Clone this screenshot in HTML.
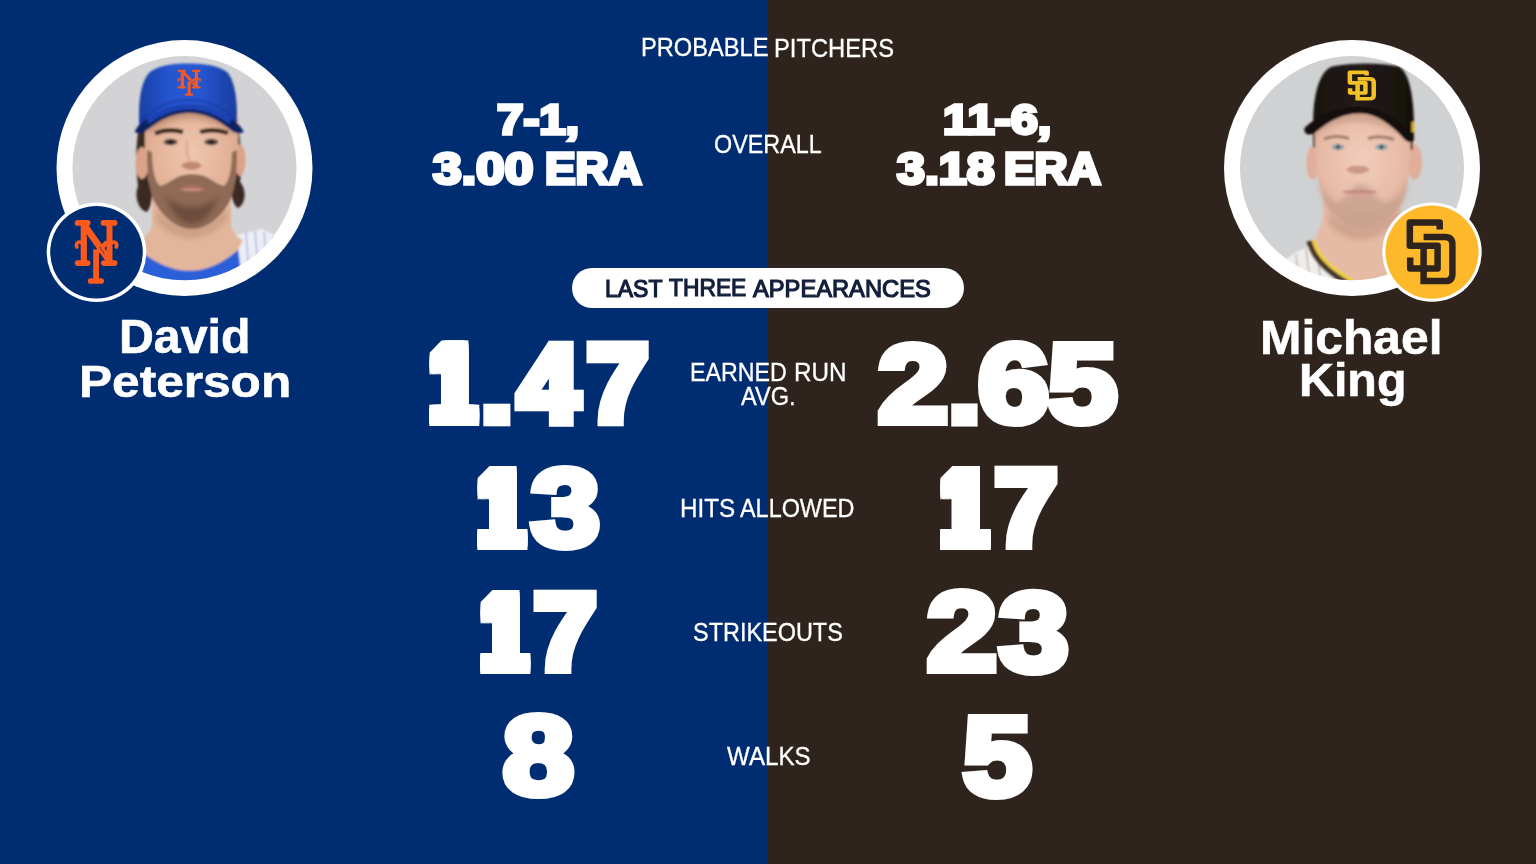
<!DOCTYPE html>
<html lang="en">
<head>
<meta charset="utf-8">
<title>Probable Pitchers</title>
<style>
html,body{margin:0;padding:0;}
body{width:1536px;height:864px;overflow:hidden;position:relative;background:#002d72;font-family:"Liberation Sans",sans-serif;color:#fff;}
.half-l{position:absolute;left:0;top:0;width:768px;height:864px;background:#002d72;}
.half-r{position:absolute;left:768px;top:0;width:768px;height:864px;background:#2f241d;}
.t{position:absolute;white-space:nowrap;line-height:1;transform-origin:0 0;display:block;margin:0;padding:0;}
.grp{position:absolute;left:0;top:0;width:0;height:0;}
.lbl{font-size:25px;font-weight:400;color:#fff;-webkit-text-stroke:0.3px #fff;}
.big{font-weight:700;font-size:106px;-webkit-text-stroke:10px #fff;}
.rd{font-size:109px;-webkit-text-stroke:8px #fff;}
.one{-webkit-text-stroke:0 #fff;text-shadow:0px 2.5px 0 #fff,0px -2.5px 0 #fff,0px 5px 0 #fff,0px -5px 0 #fff,3.5px 0px 0 #fff,3.5px 2.5px 0 #fff,3.5px -2.5px 0 #fff,3.5px 5px 0 #fff,3.5px -5px 0 #fff,-3.5px 0px 0 #fff,-3.5px 2.5px 0 #fff,-3.5px -2.5px 0 #fff,-3.5px 5px 0 #fff,-3.5px -5px 0 #fff,7px 0px 0 #fff,7px 2.5px 0 #fff,7px -2.5px 0 #fff,7px 5px 0 #fff,7px -5px 0 #fff,-7px 0px 0 #fff,-7px 2.5px 0 #fff,-7px -2.5px 0 #fff,-7px 5px 0 #fff,-7px -5px 0 #fff,10.5px 0px 0 #fff,10.5px 2.5px 0 #fff,10.5px -2.5px 0 #fff,10.5px 5px 0 #fff,10.5px -5px 0 #fff,-10.5px 0px 0 #fff,-10.5px 2.5px 0 #fff,-10.5px -2.5px 0 #fff,-10.5px 5px 0 #fff,-10.5px -5px 0 #fff,14px 0px 0 #fff,14px 2.5px 0 #fff,14px -2.5px 0 #fff,14px 5px 0 #fff,14px -5px 0 #fff,-14px 0px 0 #fff,-14px 2.5px 0 #fff,-14px -2.5px 0 #fff,-14px 5px 0 #fff,-14px -5px 0 #fff,1.75px 5px 0 #fff,-1.75px 5px 0 #fff,5.25px 5px 0 #fff,-5.25px 5px 0 #fff,8.75px 5px 0 #fff,-8.75px 5px 0 #fff,12.25px 5px 0 #fff,-12.25px 5px 0 #fff;}
.ov{font-weight:700;font-size:44px;-webkit-text-stroke:3.5px #fff;}
.name{font-weight:700;font-size:46px;-webkit-text-stroke:0.6px #fff;}
.pill{position:absolute;left:572px;top:268px;width:392px;height:40px;border-radius:20px;background:#fff;}
.pilltxt{color:#121e3b;font-size:26px;-webkit-text-stroke:1.3px #121e3b;}
#photos{position:absolute;left:0;top:0;}

</style>
</head>
<body>
<div class="half-l"></div>
<div class="half-r"></div>
<div class="pill"></div>
<svg id="photos" width="1536" height="864" viewBox="0 0 1536 864">
  <defs>
    <clipPath id="clipL"><circle cx="184.5" cy="168" r="112.3"/></clipPath>
    <clipPath id="clipR"><circle cx="1352" cy="168" r="112.3"/></clipPath>
    <filter id="b1" x="-10%" y="-10%" width="120%" height="120%"><feGaussianBlur stdDeviation="1.1"/></filter>
    <filter id="b2" x="-20%" y="-20%" width="140%" height="140%"><feGaussianBlur stdDeviation="2.4"/></filter>
    <filter id="b3" x="-30%" y="-30%" width="160%" height="160%"><feGaussianBlur stdDeviation="4"/></filter>
    <linearGradient id="capL" x1="0" y1="0" x2="1" y2="0">
      <stop offset="0" stop-color="#1b3fa6"/><stop offset="0.3" stop-color="#2555cf"/><stop offset="0.6" stop-color="#2758d4"/><stop offset="1" stop-color="#1a3c9e"/>
    </linearGradient>
    <linearGradient id="capR" x1="0" y1="0" x2="1" y2="0">
      <stop offset="0" stop-color="#17110f"/><stop offset="0.45" stop-color="#231b17"/><stop offset="1" stop-color="#15100e"/>
    </linearGradient>
    <radialGradient id="skinL" cx="0.5" cy="0.35" r="0.7">
      <stop offset="0" stop-color="#efc6ae"/><stop offset="0.6" stop-color="#e2b197"/><stop offset="1" stop-color="#cf9a80"/>
    </radialGradient>
    <radialGradient id="skinR" cx="0.5" cy="0.4" r="0.7">
      <stop offset="0" stop-color="#f1cdbc"/><stop offset="0.6" stop-color="#e7bba7"/><stop offset="1" stop-color="#d6a590"/>
    </radialGradient>
    <g id="nylogo">
      <!-- NY monogram drawn in a 44 x 66 box, origin top-left -->
      <g fill="none" stroke="#fb5a1c" stroke-linejoin="round">
        <path d="M9.9,3 V44" stroke-width="6.2" stroke-linecap="butt"/>
        <path d="M35.6,3 V44" stroke-width="6" stroke-linecap="butt"/>
        <path d="M3.7,3.5 H13.8 M29.6,3.5 H40.7 M3.7,43.7 H13.8 M30,43.7 H40.7" stroke-width="5.6" stroke-linecap="round"/>
        <path d="M11,6.5 L34.6,40" stroke-width="6.6" stroke-linecap="butt"/>
        <path d="M22.2,30 V60" stroke-width="5.8" stroke-linecap="butt"/>
        <path d="M33.4,22.6 L24,32" stroke-width="4.6" stroke-linecap="butt"/>
        <path d="M16.7,61.6 H27.3" stroke-width="5.6" stroke-linecap="round"/>
        <path d="M7.4,23.2 C3.4,21.6 1.8,24.6 3,27.6 M38,23.2 C42,21.6 43.6,24.6 42.4,27.6" stroke-width="3.6" stroke-linecap="round"/>
      </g>
      <path d="M12.6,16 L21.4,29.4 M25.8,27.4 L30.4,34.8" stroke="#0a2f78" stroke-width="0.9" fill="none" opacity="0.8"/>
    </g>
    <g id="sdlogo">
      <!-- SD monogram, coordinates in page space of the badge -->
      <g fill="none" stroke-linejoin="miter" stroke-linecap="butt">
        <path d="M1439.7,229.4 V222.5 H1409.8 V245.8 H1437.6 V268.4 H1410.2 V257.6" stroke-linejoin="round"/>
        <path d="M1423.6,236.9 H1445 Q1452.4,236.9 1452.4,244.3 V273.7 Q1452.4,281.1 1445,281.1 H1420.4 M1423.6,249 V284.3"/>
      </g>
    </g>
  </defs>

  <!-- ===== left portrait ===== -->
  <circle cx="184.5" cy="168" r="128" fill="#fff"/>
  <circle cx="184.5" cy="168" r="112" fill="#d3d3d5"/>
  <g clip-path="url(#clipL)">
   <g filter="url(#b1)">
    <!-- jersey -->
    <path d="M232,236 L262,229 L300,246 V292 H80 V262 L112,246 L146,238 Z" fill="#eceef4"/>
    <g stroke="#5f7fd0" stroke-width="0.9" opacity="0.8">
      <path d="M246,232 L250,290 M255,231 L260,290 M264,232 L270,290 M273,236 L280,290 M282,240 L290,290"/>
    </g>
    <!-- undershirt -->
    <path d="M142,251 Q192,290 238,248 L244,292 H134 Z" fill="#2a5fd8"/>
    <!-- neck -->
    <path d="M152,196 H231 L231,226 Q234,236 243,240 L238,250 Q192,290 143,253 L136,242 Q148,238 152,226 Z" fill="#e3b69c"/>
    <path d="M156,208 Q192,246 228,208 L228,220 Q192,256 156,222 Z" fill="#b98a72" opacity="0.5" filter="url(#b2)"/>
    <!-- hair at sides -->
    <path d="M139,126 C135,150 136,170 138,186 C134,196 138,210 147,212 C152,206 153,196 151,186 L150,128 Z" fill="#3b2b24"/>
    <path d="M238,126 C242,150 242,170 240,182 C247,190 246,204 238,208 C232,204 230,192 232,182 L230,128 Z" fill="#3b2b24"/>
    <!-- ears -->
    <ellipse cx="142" cy="163" rx="6.5" ry="16" fill="#dba288"/>
    <ellipse cx="240" cy="160" rx="5.5" ry="16" fill="#dba288"/>
    <!-- face -->
    <path d="M146,112 C143,150 146,182 155,200 C165,219 180,228 192,228 C204,228 219,219 229,200 C238,182 240,150 237,112 Z" fill="url(#skinL)"/>
    <!-- beard -->
    <path d="M147,150 C147,180 150,196 157,206 C167,222 181,229 192,229 C203,229 217,222 227,206 C234,196 237,180 237,150 L232,152 C232,170 229,182 224,186 C216,184 210,178 204,176 C197,173.5 187,173.5 180,176 C174,178 168,184 160,186 C155,182 152,170 152,152 Z" fill="#86634f" opacity="0.9"/>
    <path d="M166,196 C172,214 182,224 192,224 C202,224 212,214 218,196 C210,204 200,207 192,207 C184,207 174,204 166,196 Z" fill="#573b2d" opacity="0.6" filter="url(#b2)"/>
    <!-- mouth -->
    <path d="M177,188 Q192,183 207,188 Q192,195 177,188 Z" fill="#c88b7a"/>
    <path d="M178,188 Q192,186.4 206,188" stroke="#8c5548" stroke-width="1.2" fill="none"/>
    <!-- nose -->
    <path d="M181,166 Q191,174 202,166 Q198,161 191,162 Q185,161 181,166 Z" fill="#b98068" opacity="0.85"/>
    <path d="M187,140 Q186,156 190,161" stroke="#d39f85" stroke-width="2.4" fill="none" opacity="0.7"/>
    <!-- eyes -->
    <path d="M155,133.5 Q168,128 183,132" stroke="#3f2c22" stroke-width="4.4" fill="none"/>
    <path d="M200,132 Q214,128 228,133" stroke="#3f2c22" stroke-width="4.4" fill="none"/>
    <ellipse cx="170.6" cy="142" rx="7" ry="3.2" fill="#5a4a44"/><ellipse cx="170.6" cy="142" rx="3" ry="2.8" fill="#2f2622"/>
    <ellipse cx="211.3" cy="142" rx="7" ry="3.2" fill="#5a4a44"/><ellipse cx="211.3" cy="142" rx="3" ry="2.8" fill="#2f2622"/>
    <!-- forehead shadow under brim -->
    <path d="M148,133 Q190,104 234,133 L234,118 Q190,94 148,118 Z" fill="#a8765e" opacity="0.55" filter="url(#b2)"/>
    <!-- cap -->
    <path d="M139.5,131 C138,104 140,82 150,72 C160,64.5 175,63.5 188,63.5 C201,63.5 217,64.5 227,72 C236,82 238,104 236.8,131 Q188,86 139.5,131 Z" fill="url(#capL)"/>
    <path d="M134.8,131.5 C148,114 168,104 189,104 C210,104 230,114 243.6,131.5 C241,134 237,133.4 233,130 C219,118.4 204,111.6 189,111.6 C174,111.6 160,118.4 146,130 C142,133.4 137.6,134 134.8,131.5 Z" fill="#1c43b4"/>
    <path d="M134.8,131.6 C139,135 144,133 148,129.6 C160,119.4 174,113 189,113 C204,113 218,119.4 230,129.6 C234,133 239,135 243.6,131.6 C240,125 235,121 230,118.6 C231,122 230,124.4 228,123 C216,114.6 203,109.6 189,109.6 C175,109.6 162,114.6 150,123 C148,124.4 147,122 148,118.6 C143,121 138,125 134.8,131.6 Z" fill="#0d1f5c" opacity="0.95"/>
    <path d="M140,121 C155,106.5 172,100 189,100 C206,100 223,106.5 237,121" stroke="#173a9e" stroke-width="2.2" fill="none" opacity="0.7"/>
   </g>
   <use href="#nylogo" transform="translate(177.0,69.4) scale(0.545,0.41)" filter="url(#b1)" opacity="0.95"/>
  </g>

  <!-- ===== right portrait ===== -->
  <circle cx="1352" cy="168" r="128" fill="#fff"/>
  <circle cx="1352" cy="168" r="112" fill="#d0d1d3"/>
  <g clip-path="url(#clipR)">
   <g filter="url(#b1)">
    <!-- jersey -->
    <path d="M1270,270 L1296,252 L1330,238 L1400,238 L1440,255 V292 H1270 Z" fill="#f0eeeb"/>
    <g stroke="#7a6353" stroke-width="0.9" opacity="0.7">
      <path d="M1296,254 L1300,290 M1306,249 L1311,290 M1316,246 L1322,290"/>
    </g>
    <!-- neck -->
    <path d="M1323,200 H1400 L1406,288 L1356,288 C1336,274 1318,256 1314.5,240 Q1322,226 1323,214 Z" fill="#e6bba6"/>
    <path d="M1328,212 Q1362,248 1398,210 L1398,220 Q1362,258 1328,224 Z" fill="#bd917c" opacity="0.55" filter="url(#b2)"/>
    <!-- collar -->
    <path d="M1309.5,241 C1313,259 1329,273 1350,285" stroke="#4a382c" stroke-width="6" fill="none"/>
    <path d="M1313.6,240 C1317,257 1333,270 1355,282" stroke="#f1cf3a" stroke-width="3.6" fill="none"/>
    <!-- ears -->
    <ellipse cx="1312.5" cy="163" rx="6" ry="16.5" fill="#e0ae9a"/>
    <ellipse cx="1414.5" cy="162" rx="7.5" ry="17.5" fill="#e0ae9a"/>
    <!-- short hair at temples -->
    <path d="M1313,128 L1319,128 L1318,146 L1313,148 Z" fill="#5b4538"/>
    <path d="M1406,134 L1413,136 L1413,150 L1407,148 Z" fill="#5b4538"/>
    <!-- face -->
    <path d="M1316,112 C1313,156 1317,188 1327,206 C1337,221 1350,230 1362,230 C1376,230 1392,221 1401,205 C1409,188 1412,156 1410,112 Z" fill="url(#skinR)"/>
    <!-- stubble -->
    <path d="M1318,176 C1320,194 1324,204 1330,211 C1340,224 1351,230 1362,230 C1375,230 1390,222 1399,208 C1405,198 1408,188 1409,176 C1404,192 1396,200 1384,203 C1376,198 1370,184 1361,184 C1352,184 1346,198 1338,203 C1330,200 1322,192 1318,176 Z" fill="#b89683" opacity="0.55" filter="url(#b2)"/>
    <!-- mouth -->
    <path d="M1342,192 Q1359,187 1377,192 Q1359,199 1342,192 Z" fill="#d59a92"/>
    <path d="M1343,192 Q1359,190.6 1376,192" stroke="#a56a63" stroke-width="1.1" fill="none"/>
    <!-- nose -->
    <path d="M1346,170 Q1358,178 1370,170 Q1366,165 1358,166 Q1350,165 1346,170 Z" fill="#c3907d" opacity="0.85"/>
    <!-- eyes -->
    <path d="M1324,139 Q1336,134.5 1349,138.5" stroke="#a07d68" stroke-width="3" fill="none"/>
    <path d="M1368,138.5 Q1381,134.5 1394,139.5" stroke="#a07d68" stroke-width="3" fill="none"/>
    <ellipse cx="1338" cy="147" rx="6.4" ry="3" fill="#8fa3ab"/>
    <ellipse cx="1381.5" cy="147" rx="6.4" ry="3" fill="#8fa3ab"/>
    <ellipse cx="1338" cy="147" rx="2.2" ry="2.4" fill="#4a5961"/>
    <ellipse cx="1381.5" cy="147" rx="2.2" ry="2.4" fill="#4a5961"/>
    <!-- forehead shadow -->
    <path d="M1312,136 Q1360,104 1413,142 L1413,130 Q1360,94 1312,124 Z" fill="#b58a76" opacity="0.5" filter="url(#b2)"/>
    <!-- cap -->
    <path d="M1313.5,131 C1312,100 1318,72 1332,66.5 C1352,62.5 1380,62.5 1399,66.5 C1411,74 1415,104 1414,140 Q1362,84 1313.5,131 Z" fill="url(#capR)"/>
    <path d="M1304.5,128 C1318,114 1340,106 1361,106.5 C1382,107 1401,120 1414.5,139 C1412,143.5 1408,143 1404,139 C1391,124 1376,114 1361,113.5 C1345,113 1330,120 1316,132 C1311,136.5 1303,135 1304.5,128 Z" fill="#17110e"/>
    <rect x="1411.5" y="122" width="3" height="10" fill="#d9b332"/>
   </g>
   <g transform="translate(1361.8,85.6) scale(0.56,0.45) translate(-1431.1,-251.9)" stroke="#f2c327" stroke-width="8" filter="url(#b1)"><use href="#sdlogo"/></g>
  </g>

  <!-- ===== team badges ===== -->
  <circle cx="96.5" cy="252.3" r="49.8" fill="#fff"/>
  <circle cx="96.5" cy="252.3" r="46.3" fill="#002d72"/>
  <use href="#nylogo" transform="translate(73.9,219.4)"/>
  <circle cx="1432" cy="252.1" r="49.7" fill="#fff"/>
  <circle cx="1432" cy="252.1" r="46.6" fill="#fdb92a"/>
  <g stroke="#2f241d" stroke-width="6.5"><use href="#sdlogo"/></g>
</svg>

<div class="grp" id="title"><span class="t lbl" style="left:641.11px;top:34.98px;transform:scale(0.9462,1.0056);">PROBABLE</span> <span class="t lbl" style="left:774.40px;top:34.72px;transform:scale(0.9492,1.0278);">PITCHERS</span></div>
<div class="t lbl" style="left:713.77px;top:132.20px;transform:scale(0.9342,1.0000);">OVERALL</div>
<div class="grp" id="ovl"><span class="t ov" style="left:496.60px;top:98.27px;transform:scale(1.0827,0.9833);">7-1,</span><br><span class="t ov" style="left:433.37px;top:146.13px;transform:scale(1.1713,1.0171);">3.00</span> <span class="t ov" style="left:544.76px;top:146.85px;transform:scale(1.0419,0.9886);">ERA</span></div>
<div class="grp" id="ovr"><span class="t ov" style="left:942.89px;top:98.27px;transform:scale(1.1073,0.9833);">11-6,</span><br><span class="t ov" style="left:896.74px;top:146.13px;transform:scale(1.1402,1.0171);">3.18</span> <span class="t ov" style="left:1003.96px;top:146.85px;transform:scale(1.0419,0.9886);">ERA</span></div>
<div class="grp" id="pilltext"><span class="t pilltxt" style="left:605.42px;top:275.56px;transform:scale(0.8828,0.9450);">LAST</span> <span class="t pilltxt" style="left:669.20px;top:275.83px;transform:scale(0.8773,0.9250);">THREE</span> <span class="t pilltxt" style="left:753.31px;top:275.56px;transform:scale(0.9112,0.9450);">APPEARANCES</span></div>
<div class="grp" id="namel"><span class="t name" style="left:118.65px;top:311.99px;transform:scale(1.0492,1.0618);">David</span><br><span class="t name" style="left:78.77px;top:359.33px;transform:scale(1.0780,0.9813);">Peterson</span></div>
<div class="grp" id="namer"><span class="t name" style="left:1260.46px;top:312.56px;transform:scale(1.0816,1.0471);">Michael</span><br><span class="t name" style="left:1299.25px;top:357.00px;transform:scale(1.0510,1.0000);">King</span></div>
<div class="grp" id="l1"><span class="t big one" style="left:433.77px;top:328.70px;transform:scale(0.6462,1.0253);">1</span><span class="t big" style="left:481.14px;top:343.16px;transform:scale(1.0800,0.8731);">.</span><span class="t big" style="left:517.55px;top:328.70px;transform:scale(1.0382,1.0253);">4</span><span class="t big" style="left:587.04px;top:328.70px;transform:scale(1.0400,1.0253);">7</span></div>
<div class="grp" id="s1"><span class="t lbl" style="left:690.24px;top:360.00px;transform:scale(0.9287,1.0000);">EARNED</span> <span class="t lbl" style="left:793.76px;top:359.97px;transform:scale(0.9700,1.0111);">RUN</span><br><span class="t lbl" style="left:741.00px;top:384.07px;transform:scale(0.9411,1.0111);">AVG.</span></div>
<div class="grp" id="r1"><span class="t big rd" style="left:877.50px;top:329.17px;transform:scale(1.1583,1.0118);">2</span><span class="t big" style="left:949.10px;top:342.26px;transform:scale(1.0520,0.8846);">.</span><span class="t big rd" style="left:977.50px;top:329.15px;transform:scale(1.1721,1.0140);">6</span><span class="t big rd" style="left:1048.14px;top:328.19px;transform:scale(1.1429,1.0238);">5</span></div>
<div class="grp" id="l2"><span class="t big one" style="left:481.60px;top:453.47px;transform:scale(0.6500,1.0193);">1</span><span class="t big rd" style="left:530.97px;top:453.38px;transform:scale(1.1365,1.0105);">3</span></div>
<div class="grp" id="s2"><span class="t lbl" style="left:679.56px;top:495.30px;transform:scale(0.9685,1.0333);">HITS</span> <span class="t lbl" style="left:740.30px;top:495.30px;transform:scale(0.9364,1.0333);">ALLOWED</span></div>
<div class="grp" id="r2"><span class="t big one" style="left:945.43px;top:453.44px;transform:scale(0.6538,1.0217);">1</span><span class="t big" style="left:994.95px;top:453.44px;transform:scale(1.0533,1.0217);">7</span></div>
<div class="grp" id="l3"><span class="t big one" style="left:484.89px;top:577.14px;transform:scale(0.6487,1.0217);">1</span><span class="t big" style="left:534.06px;top:577.14px;transform:scale(1.0567,1.0217);">7</span></div>
<div class="t lbl" style="left:692.76px;top:619.53px;transform:scale(0.9380,1.0222);">STRIKEOUTS</div>
<div class="grp" id="r3"><span class="t big rd" style="left:927.30px;top:577.13px;transform:scale(1.1533,1.0153);">2</span><span class="t big rd" style="left:999.10px;top:577.11px;transform:scale(1.1476,1.0174);">3</span></div>
<div class="t big rd" style="left:502.67px;top:701.02px;transform:scale(1.1661,1.0163);">8</div>
<div class="t lbl" style="left:726.60px;top:744.37px;transform:scale(0.9651,1.0111);">WALKS</div>
<div class="t big rd" style="left:963.03px;top:699.94px;transform:scale(1.1302,1.0274);">5</div>
</body>
</html>
